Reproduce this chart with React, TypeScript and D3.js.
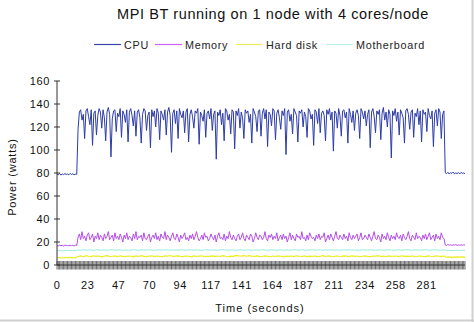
import React from "react";
import * as d3 from "d3";

// sample times (seconds)
const timesFine: number[] = d3.range(0, 311, 1); // CPU & memory, 1 s
const timesCoarse: number[] = d3.range(0, 311, 2); // hard disk & motherboard, 2 s

const cpu: number[] = [
  79, 78.5, 79.5, 78.2, 79.2, 78.6, 79.4, 78.8, 79.1, 78.4, 79.6, 78.7, 79.3, 78.5, 79.0, 78.9,
  118, 133, 135, 126, 131, 110, 134, 136, 129, 122, 135, 104, 132, 134, 113, 130, 136, 133, 119, 135,
  128, 108, 133, 137, 131, 94, 127, 134, 135, 116, 132, 129, 136, 111, 134, 131, 124, 135, 107, 133,
  136, 130, 121, 134, 112, 133, 135, 128, 106, 131, 136, 134, 117, 130, 133, 102, 135, 129, 134, 120,
  136, 132, 109, 134, 131, 126, 135, 113, 133, 137, 130, 98, 132, 135, 123, 134, 110, 136, 131, 128,
  134, 115, 133, 136, 107, 131, 135, 129, 119, 134, 132, 136, 105, 133, 130, 125, 135, 111, 132, 134,
  127, 136, 117, 131, 134, 92, 133, 130, 135, 122, 132, 108, 136, 134, 126, 131, 114, 135, 133, 101,
  134, 130, 136, 119, 133, 128, 110, 135, 132, 134, 124, 131, 106, 136, 133, 129, 116, 134, 135, 112,
  132, 136, 127, 135, 103, 133, 131, 121, 136, 134, 109, 132, 135, 128, 118, 134, 130, 136, 96, 133,
  135, 125, 131, 114, 136, 133, 130, 107, 134, 132, 135, 120, 133, 129, 111, 136, 134, 127, 131, 104,
  135, 133, 123, 136, 115, 132, 134, 130, 108, 135, 131, 136, 126, 133, 99, 134, 132, 119, 136, 130,
  112, 134, 135, 128, 133, 106, 136, 131, 124, 134, 117, 132, 135, 130, 110, 136, 133, 127, 134, 121,
  131, 135, 102, 133, 136, 129, 115, 134, 131, 135, 109, 132, 137, 126, 133, 120, 135, 131, 93, 134,
  130, 136, 125, 133, 113, 135, 132, 128, 106, 134, 136, 131, 118, 133, 135, 111, 132, 129, 136, 122,
  134, 107, 135, 131, 133, 116, 136, 130, 127, 134, 103, 132, 135, 121, 136, 133, 110, 131, 134,
  80.2, 79.4, 80.6, 79.1, 80.3, 79.6, 80.8, 79.3, 80.1, 79.5, 80.4, 79.2, 80.5, 79.7, 80.0, 79.4,
];

const memory: number[] = [
  17, 16.6, 17.2, 16.8, 17.1, 16.5, 17.3, 16.9, 17.0, 16.7, 17.2, 16.8, 17.1, 16.6, 17.3, 16.9,
  24, 27, 22, 29, 23, 25, 21, 26, 28, 22, 24, 27, 20, 25, 23, 28, 22, 26, 24, 21,
  27, 23, 25, 29, 22, 24, 26, 21, 28, 23, 25, 22, 27, 24, 20, 26, 23, 28, 22, 25,
  24, 21, 27, 23, 29, 22, 25, 24, 26, 21, 28, 23, 22, 25, 27, 20, 24, 26, 23, 28,
  22, 25, 21, 27, 24, 23, 29, 22, 26, 24, 21, 25, 28, 23, 22, 27, 24, 20, 26, 23,
  25, 28, 22, 24, 21, 26, 23, 27, 22, 25, 29, 24, 21, 23, 26, 22, 28, 24, 25, 21,
  23, 27, 24, 22, 26, 20, 25, 28, 23, 24, 22, 27, 21, 25, 23, 29, 24, 22, 26, 23,
  21, 25, 27, 22, 24, 28, 23, 21, 26, 24, 22, 27, 25, 20, 23, 28, 24, 22, 26, 25,
  22, 24, 29, 23, 21, 26, 24, 27, 22, 25, 23, 28, 21, 24, 26, 22, 27, 23, 25, 20,
  24, 28, 22, 26, 23, 21, 27, 24, 25, 22, 29, 23, 24, 21, 26, 22, 28, 25, 23, 24,
  21, 26, 23, 27, 22, 25, 24, 28, 20, 23, 26, 22, 27, 24, 21, 25, 29, 23, 22, 26,
  24, 22, 27, 23, 25, 21, 28, 24, 22, 26, 23, 25, 27, 21, 24, 28, 22, 23, 26, 24,
  22, 27, 24, 21, 25, 29, 23, 22, 26, 24, 20, 27, 23, 25, 22, 28, 24, 21, 26, 23,
  25, 22, 28, 24, 23, 26, 21, 27, 24, 22, 25, 29, 23, 21, 26, 24, 22, 28, 23, 25,
  24, 21, 26, 23, 27, 22, 25, 28, 22, 24, 26, 21, 27, 23, 25, 22, 28, 24, 23,
  17.5, 17.0, 17.8, 17.2, 17.6, 17.1, 17.5, 17.3, 17.7, 17.0, 17.4, 17.2, 17.6, 17.1, 17.5, 17.3,
];

const hardDisk: number[] = [
  6.2, 6.5, 6.1, 6.4, 6.3, 6.6, 6.2, 6.4,
  7.4, 7.9, 7.2, 8.1, 7.6, 7.3, 8.0, 7.5, 7.8, 7.1,
  7.7, 8.2, 7.4, 7.6, 7.9, 7.2, 8.0, 7.5, 7.3, 7.8,
  7.6, 7.1, 7.9, 7.4, 8.1, 7.5, 7.2, 7.7, 8.0, 7.3,
  7.8, 7.5, 7.2, 7.9, 7.6, 8.3, 7.4, 7.7, 8.0, 7.5,
  7.3, 7.8, 7.6, 7.1, 7.9, 7.4, 7.7, 8.0, 7.2, 7.6,
  7.5, 7.9, 7.3, 7.8, 7.4, 8.1, 7.6, 7.2, 7.7, 7.5,
  8.4, 8.0, 7.8, 8.2, 7.6, 8.1, 7.7, 7.4, 7.9, 7.3,
  7.6, 8.0, 7.5, 7.2, 7.8, 7.4, 7.9, 7.6, 7.1, 7.7,
  7.5, 7.8, 7.3, 8.0, 7.6, 7.4, 7.9, 7.2, 7.7, 7.5,
  7.8, 7.3, 7.6, 8.1, 7.4, 7.9, 7.5, 7.2, 7.8, 7.6,
  7.4, 7.9, 7.7, 7.3, 8.0, 7.5, 7.8, 7.2, 7.6, 7.9,
  7.5, 7.3, 7.8, 7.6, 8.1, 7.4, 7.7, 7.2, 7.9, 7.5,
  7.6, 7.8, 7.3, 8.0, 7.5, 7.7, 7.4, 7.9, 7.2, 7.6,
  7.8, 7.5, 7.3, 7.9, 7.6, 7.4, 8.0, 7.7, 7.5, 7.8,
  6.8, 7.0, 6.7, 6.9, 7.1, 6.8, 7.0, 6.9,
];

const motherboard: number[] = [
  12.4, 12.6, 12.3, 12.5, 12.7, 12.4, 12.6, 12.5,
  13.1, 12.8, 13.3, 12.9, 13.2, 13.0, 12.7, 13.4, 13.0, 12.9,
  13.2, 12.8, 13.1, 13.3, 12.9, 13.0, 13.2, 12.7, 13.1, 13.0,
  12.9, 13.3, 13.0, 12.8, 13.2, 13.1, 12.9, 13.4, 13.0, 12.8,
  13.1, 13.2, 12.9, 13.0, 13.3, 12.8, 13.1, 13.0, 12.9, 13.2,
  13.0, 12.8, 13.3, 13.1, 12.9, 13.2, 13.0, 12.7, 13.1, 13.3,
  12.9, 13.0, 13.2, 12.8, 13.1, 13.4, 13.0, 12.9, 13.2, 13.0,
  12.8, 13.1, 13.3, 12.9, 13.0, 13.2, 12.8, 13.1, 13.0, 12.9,
  13.3, 13.0, 12.8, 13.2, 13.1, 12.9, 13.0, 13.3, 12.8, 13.1,
  13.0, 12.9, 13.2, 13.1, 12.8, 13.3, 13.0, 12.9, 13.1, 13.2,
  12.9, 13.0, 13.3, 12.8, 13.1, 13.0, 13.2, 12.9, 13.1, 13.0,
  12.8, 13.2, 13.0, 13.3, 12.9, 13.1, 13.0, 12.8, 13.2, 13.1,
  12.9, 13.3, 13.0, 12.8, 13.1, 13.2, 12.9, 13.0, 13.3, 13.1,
  12.8, 13.0, 13.2, 12.9, 13.1, 13.3, 13.0, 12.8, 13.2, 13.0,
  13.1, 12.9, 13.3, 13.0, 12.8, 13.2, 13.1, 12.9, 13.0, 13.2,
  12.6, 12.8, 12.5, 12.7, 12.9, 12.6, 12.8, 12.7,
];

const seriesNames: string[] = ["CPU", "Memory", "Hard disk", "Motherboard"];
const seriesColors: string[] = ["#2d3ca8", "#b44ee8", "#ecec20", "#98ece2"];
const legendColors: string[] = ["#3a46a8", "#cc66ee", "#f4ec60", "#b8f2ec"];
const yTicks: number[] = [0, 20, 40, 60, 80, 100, 120, 140, 160];
const xTickLabels: string[] = ["0", "23", "47", "70", "94", "117", "141", "164", "187", "211", "234", "258", "281"];
const xTickStep = 23.4;
const title = "MPI BT running on 1 node with 4 cores/node";

const W = 474;
const H = 322;
const FONT = "'Liberation Sans', Arial, Helvetica, sans-serif";

export default function App() {
  const x = d3.scaleLinear().domain([0, 310]).range([57, 465]);
  const y = d3.scaleLinear().domain([0, 160]).range([265, 81]);
  const allSeries = [
    { v: cpu, t: timesFine, w: 1 },
    { v: memory, t: timesFine, w: 1 },
    { v: hardDisk, t: timesCoarse, w: 1.2 },
    { v: motherboard, t: timesCoarse, w: 1 },
  ];
  const makeLine = (t: number[]) =>
    d3
      .line<number>()
      .x((_, i) => x(t[i]))
      .y((d) => y(d));

  const minorTicks = d3.range(0, 311, 1);
  const legendX = [94, 155, 236, 326];

  return (
    <svg
      width={W}
      height={H}
      style={{ position: "absolute", left: 0, top: 0, display: "block", background: "#fff" }}
      fontFamily={FONT}
    >
      <rect x={0} y={0} width={W} height={H} fill="#fff" />
      {/* title */}
      <text x={273} y={19} textAnchor="middle" fontSize={14.5} letterSpacing={0.6} fill="#111">
        {title}
      </text>
      {/* legend */}
      {seriesNames.map((n, i) => (
        <g key={n}>
          <line x1={legendX[i]} x2={legendX[i] + 27} y1={44.5} y2={44.5} stroke={legendColors[i]} strokeWidth={1.2} />
          <text x={legendX[i] + 30} y={48.5} fontSize={10.8} letterSpacing={0.7} fill="#222">
            {n}
          </text>
        </g>
      ))}
      {/* dense tick band on x axis */}
      <g>
        {minorTicks.map((t) => (
          <line key={t} x1={x(t)} x2={x(t)} y1={261} y2={269.5} stroke="#4a4a4a" strokeWidth={0.8} />
        ))}
        <line x1={57} x2={465} y1={265} y2={265} stroke="#333" strokeWidth={1} />
      </g>
      {/* series (reverse order so CPU on top) */}
      {allSeries
        .map((s, i) => ({ s, i }))
        .reverse()
        .map(({ s, i }) => (
          <path
            key={i}
            d={makeLine(s.t)(s.v) || ""}
            fill="none"
            stroke={seriesColors[i]}
            strokeWidth={s.w}
            strokeLinejoin="round"
          />
        ))}
      {/* y axis */}
      <line x1={57} x2={57} y1={y(160)} y2={265} stroke="#333" strokeWidth={1} />
      {yTicks.map((v) => (
        <g key={v}>
          <line x1={54} x2={60} y1={y(v)} y2={y(v)} stroke="#333" strokeWidth={1} />
          <text x={50} y={y(v) + 4} textAnchor="end" fontSize={11} letterSpacing={0.6} fill="#111">
            {v}
          </text>
        </g>
      ))}
      {/* x tick labels */}
      {xTickLabels.map((l, i) => (
        <text key={l} x={x(i * xTickStep)} y={289} textAnchor="middle" fontSize={11} letterSpacing={0.6} fill="#111">
          {l}
        </text>
      ))}
      {/* axis titles */}
      <text x={260} y={312} textAnchor="middle" fontSize={11} letterSpacing={1} fill="#111">
        Time (seconds)
      </text>
      <text transform="translate(16,177) rotate(-90)" textAnchor="middle" fontSize={11} letterSpacing={0.8} fill="#111">
        Power (watts)
      </text>
      {/* frame edges */}
      <line x1={472.5} x2={472.5} y1={0} y2={322} stroke="#cfcfcf" strokeWidth={2} />
      <line x1={0} x2={474} y1={320.5} y2={320.5} stroke="#cfcfcf" strokeWidth={2} />
    </svg>
  );
}
